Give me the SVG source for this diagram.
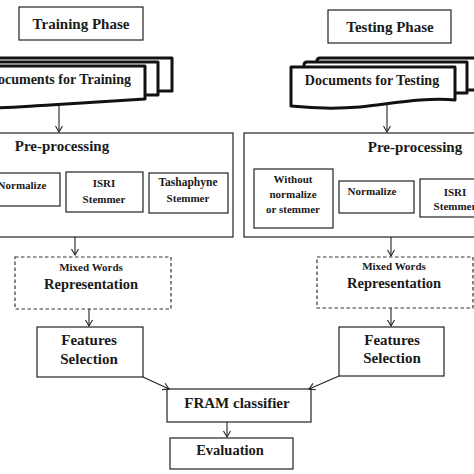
<svg xmlns="http://www.w3.org/2000/svg" width="474" height="474" viewBox="0 0 474 474">
<style>
text{font-family:"Liberation Serif","Times New Roman",serif;font-weight:bold;fill:#1a1a1a;text-anchor:middle}
.box{fill:#fff;stroke:#222;stroke-width:1.2}
.dash{fill:#fff;stroke:#333;stroke-width:1.2;stroke-dasharray:3.5,2.5}
.doc{fill:#fff;stroke:#111;stroke-width:3;stroke-linejoin:round}
.conn{fill:none;stroke:#222;stroke-width:1.1;marker-end:url(#arr)}
.t15{font-size:15px}.t14{font-size:14px}.t11{font-size:11px}
</style>
<defs>
<marker id="arr" markerUnits="userSpaceOnUse" markerWidth="10" markerHeight="10" refX="7" refY="4" orient="auto">
<path d="M1,0.5 L7,4 L1,7.5" fill="none" stroke="#222" stroke-width="1.1"/>
</marker>
</defs>
<rect width="474" height="474" fill="#fff"/>

<g id="training-phase">
<rect class="box" x="19" y="7" width="124" height="33"/>
<text class="t15" x="81" y="29">Training Phase</text>
</g>
<g id="testing-phase">
<rect class="box" x="328" y="10" width="123" height="33"/>
<text class="t15" x="390" y="32">Testing Phase</text>
</g>

<g id="docs-training">
<path class="doc" d="M-10,58 H172 V91 H-10"/>
<path class="doc" d="M-10,62 H158 V95 H-10"/>
<path class="doc" d="M-10,66 H145 V99 C115,101 80,103 50,105 C30,106 10,108 -10,108 Z"/>
<text class="t14" x="131" y="84" style="text-anchor:end">Documents for Training</text>
</g>

<g id="docs-testing">
<path class="doc" d="M317,90 V61 Q317,58 320,58 H490 V90 Z"/>
<path class="doc" d="M304,93 V65 Q304,62 307,62 H467 V93 Z"/>
<path class="doc" d="M291,106 V67 H455 V100 C425,97 390,104 360,107 C335,109 310,108 291,106 Z"/>
<text class="t14" x="372" y="85">Documents for Testing</text>
</g>

<g id="preproc-training">
<rect class="box" x="-5" y="133" width="238" height="104"/>
<text class="t15" x="62" y="151">Pre-processing</text>
</g>
<g id="normalize-training">
<rect class="box" x="-5" y="173" width="65" height="33"/>
<text class="t11" x="22" y="189">Normalize</text>
</g>
<g id="isri-training">
<rect class="box" x="66" y="172" width="77" height="40"/>
<text class="t11" x="104" y="187">ISRI</text>
<text class="t11" x="104" y="203">Stemmer</text>
</g>
<g id="tashaphyne-training">
<rect class="box" x="149" y="173" width="79" height="40"/>
<text class="t11" x="188" y="186" style="font-size:11.5px">Tashaphyne</text>
<text class="t11" x="188" y="202">Stemmer</text>
</g>

<g id="preproc-testing">
<rect class="box" x="244" y="133" width="240" height="104"/>
<text class="t15" x="415" y="152">Pre-processing</text>
</g>
<g id="without-testing">
<rect class="box" x="254" y="169" width="79" height="59"/>
<text class="t11" x="293" y="183">Without</text>
<text class="t11" x="293" y="198">normalize</text>
<text class="t11" x="293" y="213">or stemmer</text>
</g>
<g id="normalize-testing">
<rect class="box" x="339" y="181" width="75" height="32"/>
<text class="t11" x="372" y="195">Normalize</text>
</g>
<g id="isri-testing">
<rect class="box" x="420" y="179" width="64" height="38"/>
<text class="t11" x="455" y="196">ISRI</text>
<text class="t11" x="455" y="210">Stemmer</text>
</g>

<g id="mixed-training">
<rect class="dash" x="15" y="257" width="156" height="52"/>
<text class="t11" x="91" y="271">Mixed Words</text>
<text class="t14" x="91" y="289" style="font-size:14.5px">Representation</text>
</g>
<g id="mixed-testing">
<rect class="dash" x="317" y="257" width="156" height="51"/>
<text class="t11" x="394" y="270">Mixed Words</text>
<text class="t14" x="394" y="288" style="font-size:14.5px">Representation</text>
</g>

<g id="features-training">
<rect class="box" x="37" y="327" width="106" height="50"/>
<text class="t15" x="89" y="345">Features</text>
<text class="t15" x="89" y="364">Selection</text>
</g>
<g id="features-testing">
<rect class="box" x="339" y="327" width="105" height="49"/>
<text class="t15" x="392" y="345">Features</text>
<text class="t15" x="392" y="363">Selection</text>
</g>

<g id="fram">
<rect class="box" x="167" y="389" width="144" height="33"/>
<text class="t15" x="237" y="408">FRAM classifier</text>
</g>
<g id="evaluation">
<rect class="box" x="170" y="438" width="123" height="31"/>
<text class="t14" x="230" y="455" style="font-size:14.5px">Evaluation</text>
</g>

<g id="connectors">
<line class="conn" x1="59" y1="106" x2="59" y2="132"/>
<line class="conn" x1="387" y1="104" x2="387" y2="132"/>
<line class="conn" x1="75" y1="237" x2="75" y2="255"/>
<line class="conn" x1="391" y1="237" x2="391" y2="256"/>
<line class="conn" x1="89" y1="309" x2="89" y2="326"/>
<line class="conn" x1="391" y1="308" x2="391" y2="326"/>
<line class="conn" x1="143" y1="377" x2="169" y2="389"/>
<line class="conn" x1="339" y1="376" x2="309" y2="389"/>
<line class="conn" x1="227" y1="422" x2="227" y2="437"/>
</g>
</svg>
